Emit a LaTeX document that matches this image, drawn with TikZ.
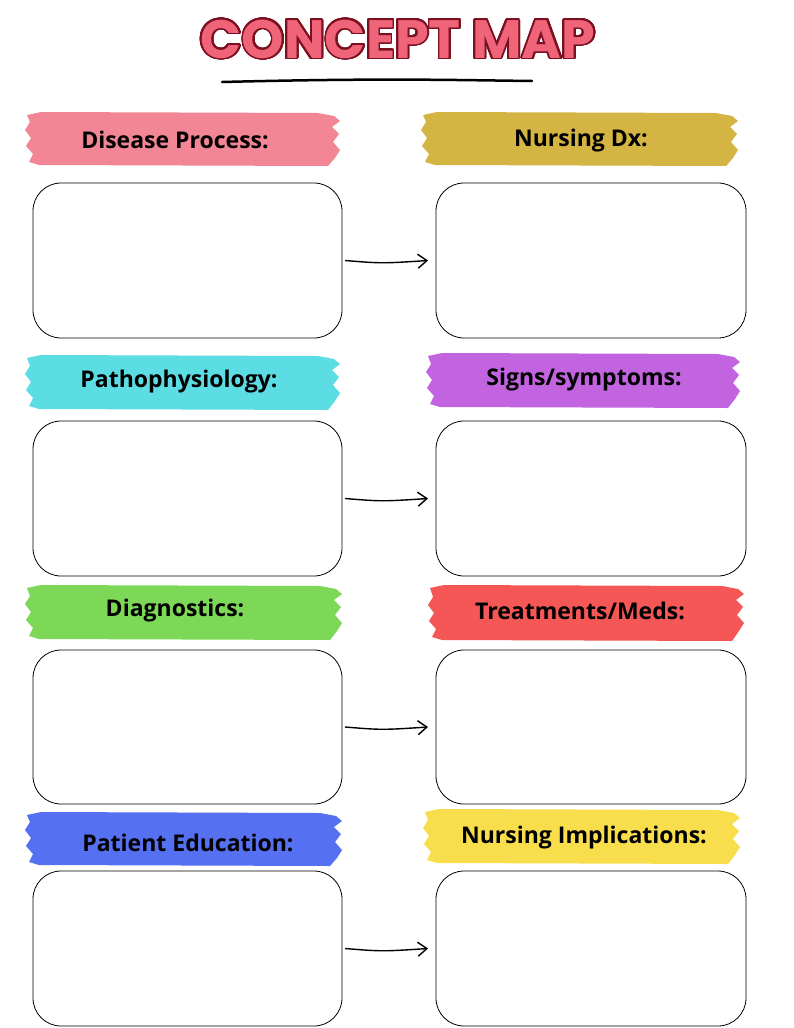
\documentclass[tikz,border=0pt]{standalone}
\usepackage{fontspec}
\setmainfont{Open Sans}
\newfontfamily\titlefont{Poppins}
\usepackage{contour}
\contourlength{1.8pt}
\contournumber{32}
\usetikzlibrary{arrows.meta}
\definecolor{cpink}{HTML}{F28695}
\definecolor{cgold}{HTML}{D4B443}
\definecolor{ccyan}{HTML}{5CDDE4}
\definecolor{cpurple}{HTML}{C263E0}
\definecolor{cgreen}{HTML}{7DD857}
\definecolor{cred}{HTML}{F55656}
\definecolor{cblue}{HTML}{5570F0}
\definecolor{cyellow}{HTML}{F8DE4D}
\definecolor{ttl}{HTML}{F0647A}
\definecolor{ttlo}{HTML}{7A1020}
\begin{document}
\begin{tikzpicture}[x=1pt,y=-1pt,
  card/.style={draw=black,line width=0.8pt,rounded corners=28pt},
  lbl/.style={font=\bfseries\fontsize{23}{26}\selectfont,text=black},
  link/.style={-{Straight Barb[length=9pt,width=14pt,line width=1.4pt]},line width=1.4pt}]
\useasboundingbox (0,0) rectangle (794,1028);
\fill[white] (0,0) rectangle (794,1028);
\node (title) at (398,40) {\titlefont\bfseries\fontsize{54}{58}\selectfont\contour{ttlo}{\textcolor{ttl}{CONCEPT MAP}}};
\draw[line width=2.5pt,line cap=round] (222,82) .. controls (380,78) and (450,80) .. (532,81);
\newcommand\brush[5]{%
  \fill[#5] (#1,#2+3) -- (#1+14,#2) -- (#3-20,#2+1) -- (#3-4,#2+4) -- (#3+2,#2+9) -- (#3-6,#2+15)
   -- (#3+1,#2+22) -- (#3-5,#2+30) -- (#3+2,#2+38) -- (#3-3,#2+46) -- (#3-10,#4)
   -- (#1+12,#4-1) -- (#1+2,#4-4) -- (#1+6,#4-12) -- (#1-1,#4-20) -- (#1+4,#4-28) -- (#1-2,#4-36) -- (#1+3,#4-44) -- cycle;}
\brush{27}{112}{338}{166}{cpink}
\brush{423}{112}{736}{166}{cgold}
\brush{27}{355}{338}{410}{ccyan}
\brush{428}{353}{738}{408}{cpurple}
\brush{27}{585}{340}{640}{cgreen}
\brush{430}{585}{742}{641}{cred}
\brush{27}{812}{340}{866}{cblue}
\brush{425}{809}{738}{864}{cyellow}
\node[lbl] (h1) at (175,140) {Disease Process:};
\node[lbl] (h2) at (581,141) {Nursing Dx:};
\node[lbl] (h3) at (179,382) {Pathophysiology:};
\node[lbl] (h4) at (584,380) {Signs/symptoms:};
\node[lbl] (h5) at (175,611) {Diagnostics:};
\node[lbl] (h6) at (580,611) {Treatments/Meds:};
\node[lbl] (h7) at (188,843) {Patient Education:};
\node[lbl] (h8) at (584,838) {Nursing Implications:};
\foreach \n/\ya/\yb in {1/183/338,2/421/576,3/650/804,4/871/1026}{
  \draw[card] (33,\ya) rectangle (342,\yb);
  \draw[card] (436,\ya) rectangle (746,\yb);
  \coordinate (l\n) at (342,{(\ya+\yb)/2});
  \coordinate (r\n) at (436,{(\ya+\yb)/2});
  \draw[link] ([xshift=3pt]l\n) .. controls ([xshift=40pt,yshift=-3pt]l\n) .. ([xshift=-8pt]r\n);
}
\end{tikzpicture}
\end{document}
